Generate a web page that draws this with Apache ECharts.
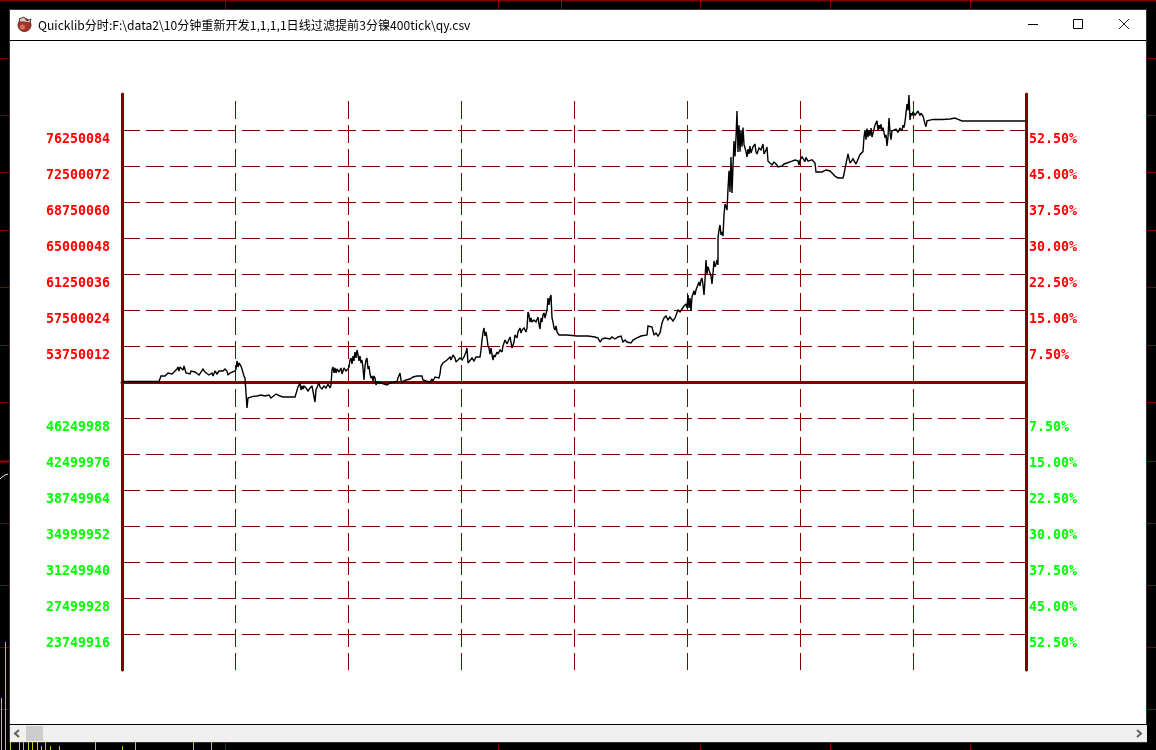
<!DOCTYPE html>
<html><head><meta charset="utf-8">
<style>html,body{margin:0;padding:0;background:#000;overflow:hidden}#c{width:1156px;height:750px}</style>
<script src="https://cdn.jsdelivr.net/npm/echarts@6/dist/echarts.min.js"></script>
</head><body><div id="c"></div>
<script>
const windowTitle = 'Quicklib分时:F:\\data2\\10分钟重新开发1,1,1,1日线过滤提前3分镍400tick\\qy.csv';
const priceLabels = ['23749916','27499928','31249940','34999952','38749964','42499976','46249988','','53750012','57500024','61250036','65000048','68750060','72500072','76250084'];
const pctLabels = ['52.50%','45.00%','37.50%','30.00%','22.50%','15.00%','7.50%','','7.50%','15.00%','22.50%','30.00%','37.50%','45.00%','52.50%'];
const sessionTicks = [113,226,339,452,565,678,791];
// [tick number, % change from the open]
const quotes = [
[0,.1],[37,.1],[38,.21],[39,1.25],[41,1.04],[43,1.25],[45,1.46],[46,1.88],[48,2.08],[50,1.67],[51,1.46],[52,1.88],[53,2.29],[55,2.71],[56,3.13],[57,2.29],[58,3.13],[60,3.33],[61,2.5],[62,3.33],[63,2.92],[64,1.88],[66,2.08],[68,1.67],[69,2.29],[71,2.5],[73,2.08],[75,1.88],[77,1.46],[79,2.08],[81,2.71],[83,2.08],[85,1.88],[87,1.46],[88,1.25],[90,1.88],[91,1.25],[93,2.29],[95,1.67],[97,2.29],[99,1.88],[101,2.29],[103,2.71],[105,2.29],[106,1.46],[108,1.88],[110,2.08],[113,2.29],[114,2.71],[115,4.38],[116,3.13],[117,3.96],[119,3.33],[120,2.92],[121,3.13],[122,1.25],[123,.83],[124,.83],[125,.42],[125,-5.42],[126,-3.33],[128,-3.33],[131,-3],[133,-2.71],[135,-2.92],[137,-3.33],[139,-2.71],[141,-2.5],[143,-2.92],[145,-3.13],[147,-2.71],[149,-3.33],[151,-2.92],[154,-2.5],[156,-2.71],[158,-2.92],[161,-3.13],[165,-3.13],[170,-3.13],[173,-3.13],[175,-2.92],[176,-1.04],[177,-.83],[178,-.21],[179,-1.67],[180,-.83],[181,-1.46],[182,-.83],[184,-1.25],[186,-1.88],[188,-1.25],[190,-.83],[191,-.63],[192,-.83],[193,-4.17],[194,-1.67],[195,-2.08],[196,-.63],[197,-.21],[198,-1.04],[200,-1.46],[202,-.83],[204,-1.25],[206,-.42],[208,-1.25],[209,-.63],
[210,2.5],[211,3.13],[212,1.88],[213,2.92],[214,1.88],[215,2.71],[217,2.08],[219,2.92],[220,1.67],[222,2.92],[224,2.29],[226,2.71],[227,3.13],[228,4.58],[229,5],[230,3.75],[231,5.42],[232,4.38],[233,6.25],[234,5],[235,6.67],[236,5.63],[237,4.38],[238,5.42],[239,3.96],[240,4.58],[241,2.92],[242,.42],[243,3.33],[244,4.58],[245,5],[246,2.71],[247,3.33],[248,1.67],[249,.83],[250,1.25],[251,.21],[252,1.25],[253,.83],[254,-.62],[255,0],[257,-.21],[259,-.21],[261,0],[265,-.62],[268,-.21],[272,0],[275,.1],[276,.83],[278,1.88],[279,.42],[280,0],[284,.42],[286,.83],[288,.63],[291,1.04],[293,.83],[295,1.25],[297,1.04],[300,1.25],[301,.42],[304,.21],[308,0],[310,.63],[311,.21],[313,1.04],[315,.63],[317,.83],[318,1.67],[319,3.33],[321,3.96],[323,4.17],[325,4.58],[326,4.17],[328,5.21],[329,4.58],[331,5.63],[333,5],[334,4.17],[336,4.17],[338,5],[340,4.58],[342,5.21],[344,6.25],[345,7.08],[346,3.96],[348,4.17],[350,5],[352,4.38],[354,5.21],[356,5],[358,5.21],[359,6.67],[360,8.75],[361,10.21],[362,11.25],[363,9.58],[364,10.42],[365,9.17],[366,7.5],[367,7.08],[368,5.83],[369,7.08],[370,5.63],[371,4.58],[372,5.63],[373,5.21],[375,6.25],[376,5.83],[378,6.67],[380,6.25],[381,7.5],[383,8.75],[385,7.92],[387,8.33],[388,9.38],[389,8.33],[390,7.08],[391,7.08],[392,8.33],[393,9.79],[395,9.17],[396,10.42],[398,11.25],[399,10.21],[400,10.83],[402,11.25],[404,10.42],[405,11.25],[406,14.58],[407,14],[408,12.5],[409,13.33],[410,12.5],[412,12.92],[414,12.5],[416,13.54],[417,12.08],[418,11.04],[419,13.33],[420,12.5],[421,13.96],[422,14.38],[423,13.33],[424,12.92],[425,15],[426,17.5],[427,16.04],[428,17.5],[429,18.13],[430,13.33],[431,12.5],[432,11.25],[433,10.83],[434,11.67],[435,10.42],[437,9.79],
[445,9.79],[455,9.58],[466,9.58],[473,9.38],[476,9.17],[478,8.33],[480,8.96],[483,9.17],[485,9.38],[488,8.96],[490,9.38],[493,8.96],[496,9.38],[499,9.58],[501,8.33],[503,8.75],[505,8.33],[507,8.54],[509,8.13],[511,8.75],[513,8.96],[515,9.17],[517,9.38],[519,9.58],[521,9.58],[525,9.79],[526,11.67],[528,12.08],[530,11.46],[531,11.67],[532,9.79],[534,10.21],[536,9.58],[538,10.21],[539,11.25],[540,12.29],[542,13.33],[544,13.75],[546,12.92],[548,13.54],[550,13.33],[551,12.71],[553,13.33],[555,13.54],[556,15],[558,14.58],[560,15.21],[562,15.83],[564,16.25],[565,15.42],[566,18.13],[567,15.42],[568,17.5],[569,14.79],[570,17.71],[571,17.92],[572,19],[573,18.13],[574,19.17],[575,19.58],[576,19.17],[577,20.83],[578,20],[579,21.25],[580,21.67],[581,20.21],[582,18.13],[583,21.25],[584,25.42],[585,22.5],[586,24],[587,23.33],[588,22.71],[589,22.08],[590,20.42],[591,22.71],[592,25.21],[593,24],[594,24.5],[595,25.42],[596,24.38],[596,30],[597,31.67],[598,32.71],[599,30.63],[600,31.25],[601,30.42],[602,34.79],[603,37.08],[604,36.5],[605,35.8],[606,40.21],[607,44],[608,39.58],[609,46.87],[610,39.38],[611,45],[612,50.21],[613,47],[614,51],[615,56.46],[616,47.92],[617,53.5],[618,48],[619,52.5],[620,49],[621,53],[622,49.5],[623,49.58],[624,48],[625,46.87],[626,48.5],[627,47.5],[628,49.17],[629,47.71],[631,49],[633,49.58],[634,47.92],[635,47.5],[637,48.75],[639,48.33],[641,49.58],[642,47.5],[644,48.33],[645,48.96],[646,46],[648,45.83],[650,45.21],[652,45.83],[653,45.83],[655,45.21],[656,44.79],[660,45],[662,45.42],[665,45.62],[670,46],[673,46.25],[676,46.1],[677,45.2],[678,46.2],[680,46.9],[681,46.5],[683,45.9],[684,46.8],[686,46],[688,46],[690,46.3],[692,46.5],[693,45.6],[694,43.75],[700,43.75],[704,44.17],[708,43.96],[711,43.33],[713,42.9],[716,42.5],[718,42.9],[721,42.5],[722,43.33],[724,45.5],[725,46.5],[726,47.5],[728,45.6],[729,46],[731,46.5],[733,46.8],[734,45.4],[735,45],[737,46.9],[738,47.4],[740,47.5],[741,48],[742,51],[743,52.5],[744,50.5],[745,52.8],[746,51],[747,52.5],[748,51.3],[749,52.9],[750,51],[752,51],[753,53.5],[755,54.4],[756,52.5],[757,53.5],[758,52.7],[759,53.7],[760,52.3],[761,53],[762,52.7],[763,50.9],[764,51.5],[765,49.2],[766,51],[767,55],[768,52],[769,50.5],[770,52.3],[772,52],[774,52.7],[776,52],[778,52.9],[780,52.3],[781,53.5],[782,53],[783,54.2],[784,56],[785,57.9],[786,56.6],[787,59.8],[788,54.6],[789,56],[790,55.5],[791,56.3],[793,55.6],[795,56],[796,56.46],[798,55.5],[799,56],[801,55.4],[802,54.6],[803,53.75],[804,53.2],[805,54.4],[807,54.4],[811,54.7],[815,54.7],[820,54.7],[828,54.8],[833,55],[836,54.7],[840,54.37],[904,54.37]
];
const DARK='#800000', MONO='"DejaVu Sans Mono"';
const labelColor = v => v>0 ? '#ff0000' : '#00ff00';
const labelIndex = v => Math.round(v/7.5)+7;

// window chrome around the chart
const ln=(x1,y1,x2,y2,c,w)=>({type:'line',z:-5,silent:true,shape:{x1,y1,x2,y2},style:{stroke:c,lineWidth:w||1}});
const rc=(x,y,width,height,fill,z)=>({type:'rect',z:z||-8,silent:true,shape:{x,y,width,height},style:{fill}});
const chrome=[
 rc(0,0,1156,750,'#000',-10),
 ln(0,.5,1156,.5,DARK,2),
 ...[225,830].map(x=>ln(x+.5,0,x+.5,10,DARK)),
 ...[498,700,970].map(x=>ln(x+.5,0,x+.5,10,DARK)),
 ln(561.5,0,561.5,10,'#333'),
 ...[58,115,172,230,287,345,402,461,523,585,647,709].flatMap(y=>[ln(0,y+.5,9,y+.5,y==461?'#a00000':DARK,y==461?2:1),ln(1147,y+.5,1156,y+.5,DARK)]),
 {type:'polyline',z:-5,silent:true,shape:{points:[[0,479],[2,477],[5,475],[8,474]]},style:{stroke:'#ddd',fill:null}},
 ln(1.5,698,1.5,750,'#c8c814'),ln(5.5,642,5.5,750,'#c8c814'),
 ...[10,19,23,28,32,37,45,95,135,193,211].map(x=>ln(x+.5,742,x+.5,750,'#c8c814')),
 ...[41,50,59,122].map(x=>ln(x+.5,746,x+.5,750,'#c8c814')),
 ln(225.5,742,225.5,750,DARK),ln(830.5,742,830.5,750,DARK),
 ...[498,700,970].map(x=>ln(x+.5,745,x+.5,750,DARK)),
 rc(9,9,1138,734,'#333'),
 rc(10,10,1136,714,'#fff'),
 ln(10,40.5,1146,40.5,'#000'),
 ln(9,724.5,1147,724.5,'#000'),
 rc(10,725,1137,17,'#f0f0f0'),
 rc(26,726,17,15,'#cdcdcd'),
 {type:'polyline',z:-5,silent:true,shape:{points:[[19,730],[15,733.5],[19,737]]},style:{stroke:'#606060',lineWidth:2,fill:null}},
 {type:'polyline',z:-5,silent:true,shape:{points:[[1137,730],[1141,733.5],[1137,737]]},style:{stroke:'#606060',lineWidth:2,fill:null}},
 {type:'circle',z:-5,silent:true,shape:{cx:24.5,cy:25,r:6.5},style:{fill:'#a83228',stroke:'#5a2a22'}},
 {type:'circle',z:-5,silent:true,shape:{cx:22.5,cy:27,r:2.5},style:{fill:'#d87060'}},
 {type:'polygon',z:-5,silent:true,shape:{points:[[19,19],[24,17],[27,21],[31,19],[30,23],[24,22],[20,22]]},style:{fill:'#d8d0c8',stroke:'#703028'}},
 ln(1028,24.5,1038,24.5,'#000'),
 {type:'rect',z:-5,silent:true,shape:{x:1073.5,y:19.5,width:9,height:9},style:{fill:'none',stroke:'#000'}},
 ln(1119,19,1129,29,'#222'),ln(1129,19,1119,29,'#222')
];

const chart=echarts.init(document.getElementById('c'),null,{renderer:'canvas'});
const yLabel=(extra,textFn)=>Object.assign({
  show:true,fontFamily:MONO,fontWeight:'bold',fontSize:13.3,
  color:labelColor,formatter:textFn,verticalAlign:'top',lineHeight:20
},extra);
chart.setOption({
 animation:false,backgroundColor:'#000',
 title:{text:windowTitle,left:38,top:18,padding:0,textStyle:{fontFamily:'"Noto Sans CJK SC"',fontWeight:'normal',fontSize:12.1,lineHeight:14,color:'#000'}},
 graphic:{elements:chrome},
 grid:{left:122,right:130,top:94,bottom:80,containLabel:false},
 xAxis:{type:'value',min:0,max:904,interval:113,
   axisLine:{show:true,onZero:true,lineStyle:{color:DARK,width:3}},axisTick:{show:false},axisLabel:{show:false},splitLine:{show:false}},
 yAxis:[
  {type:'value',min:-60,max:60,interval:7.5,position:'left',
   axisLine:{show:true,onZero:false,lineStyle:{color:DARK,width:3}},axisTick:{show:false},
   axisLabel:yLabel({align:'right',margin:12},v=>Math.abs(v)>=60?'':priceLabels[labelIndex(v)]||''),
   splitLine:{show:true,showMinLine:false,showMaxLine:false,lineStyle:{color:DARK,width:1,type:[18,6]}}},
  {type:'value',min:-60,max:60,interval:7.5,position:'right',
   axisLine:{show:true,onZero:false,lineStyle:{color:DARK,width:3}},axisTick:{show:false},
   axisLabel:yLabel({align:'left',margin:3},v=>Math.abs(v)>=60?'':pctLabels[labelIndex(v)]||''),
   splitLine:{show:false}}
 ],
 series:[
  {type:'line',z:1,data:[],silent:true,symbol:'none',
   markLine:{silent:true,symbol:'none',animation:false,z:1,label:{show:false},
     lineStyle:{color:DARK,width:1,type:[18,6]},
     data:sessionTicks.map(t=>[{coord:[t,58.54]},{coord:[t,-60]}])}},
  {type:'line',z:3,data:quotes,symbol:'none',showSymbol:false,sampling:null,silent:true,
   lineStyle:{color:'#000',width:1.4,join:'miter',miterLimit:2},clip:false}
 ]
});
</script></body></html>
